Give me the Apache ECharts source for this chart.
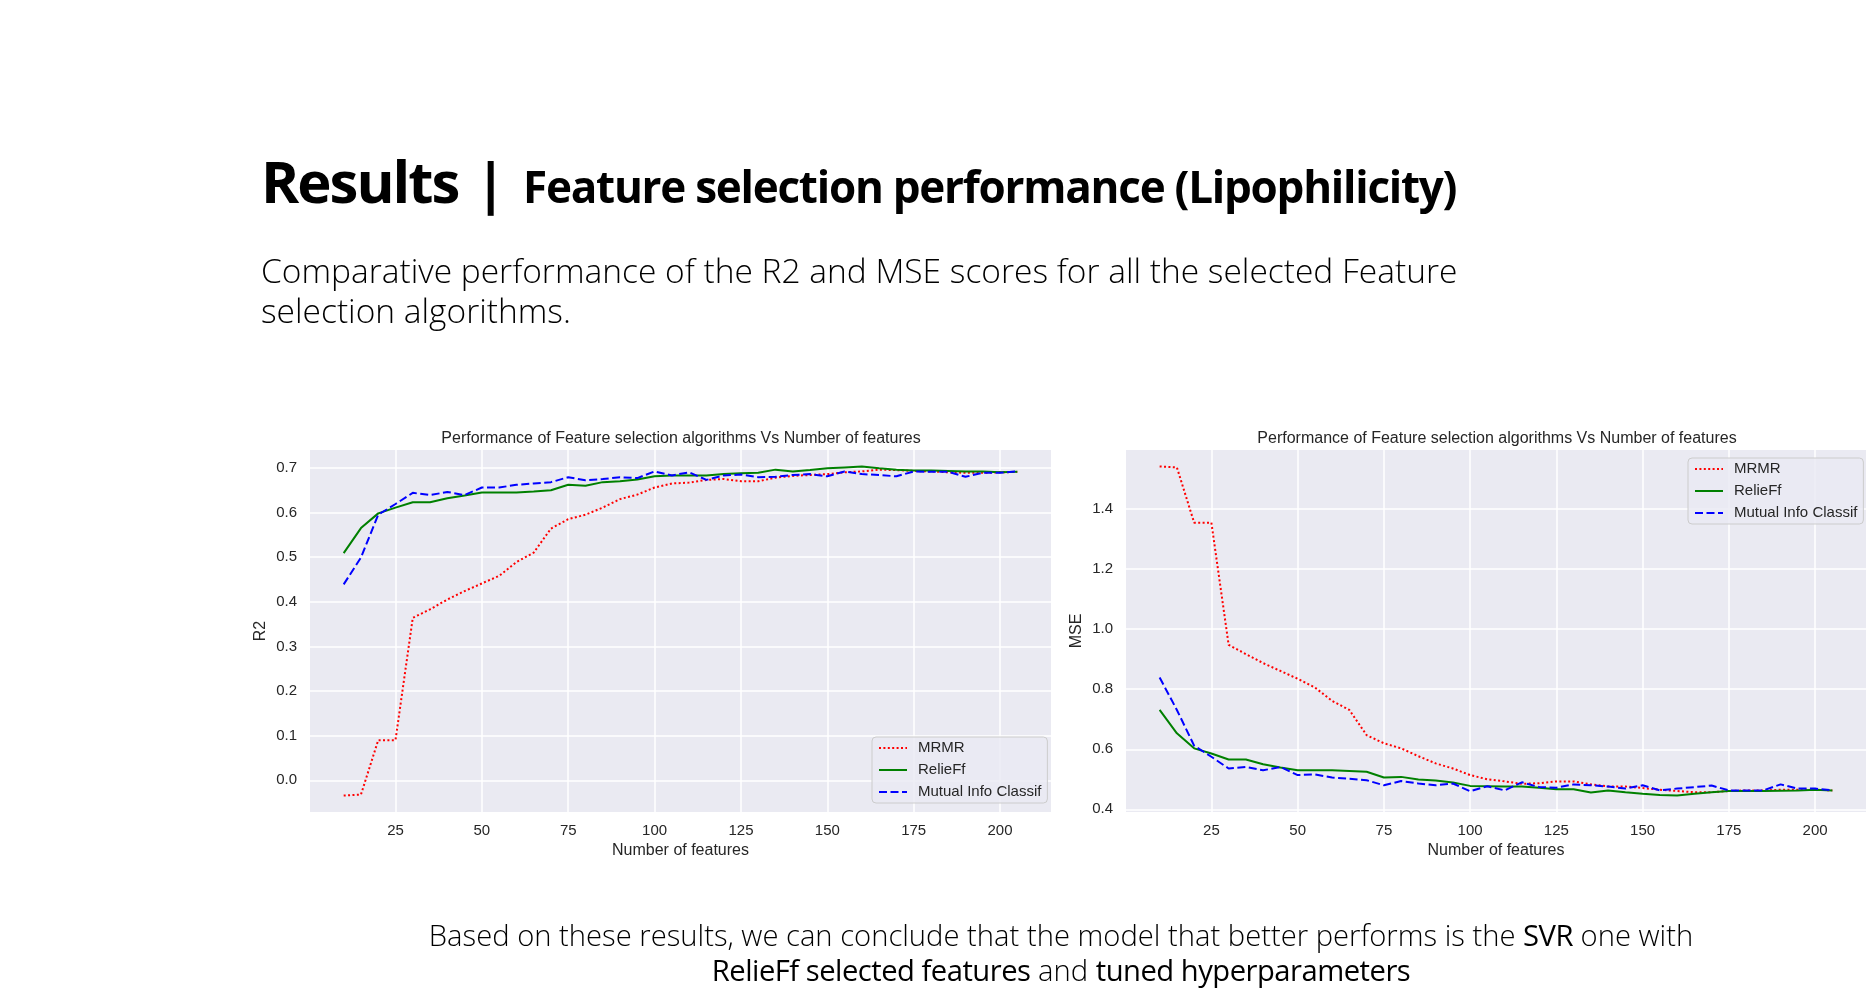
<!DOCTYPE html>
<html>
<head>
<meta charset="utf-8">
<script src="https://cdn.jsdelivr.net/npm/echarts@6/dist/echarts.min.js"></script>
<style>
  html, body { margin: 0; padding: 0; background: #fff; width: 1868px; height: 1004px; overflow: hidden; }
  #chart { position: absolute; left: 0; top: 0; width: 1868px; height: 1004px; }
  .txt { position: absolute; font-family: "Open Sans", sans-serif; color: #000; white-space: nowrap; }
  #heading { left: 261px; top: 141px; display: flex; align-items: baseline; }
  #heading .big { font-size: 58px; font-weight: 700; letter-spacing: -2px; }
  #heading .bar { font-size: 56px; font-weight: 700; margin: 0 17px 0 17px; }
  #heading .sub { font-size: 44px; font-weight: 700; letter-spacing: -1.25px; }
  #intro { left: 261px; top: 251px; font-size: 33.5px; font-weight: 300; line-height: 39.5px; }
  #conclusion { left: 0; width: 2122px; top: 918px; text-align: center; font-size: 29.2px; font-weight: 300; line-height: 35px; }
  #conclusion b { font-weight: 400; letter-spacing: -0.5px; }
</style>
</head>
<body>
<div id="chart"></div>
<div class="txt" id="heading"><span class="big">Results</span><span class="bar">|</span><span class="sub">Feature selection performance (Lipophilicity)</span></div>
<div class="txt" id="intro">Comparative performance of the R2 and MSE scores for all the selected Feature<br>selection algorithms.</div>
<div class="txt" id="conclusion">Based on these results, we can conclude that the model that better performs is the <b>SVR</b> one with<br><b>RelieFf selected features</b> and <b>tuned hyperparameters</b></div>
<script>
// number of selected features (x axis of both panels)
const features = [10, 15, 20, 25, 30, 35, 40, 45, 50, 55, 60, 65, 70, 75, 80, 85, 90, 95, 100, 105,
  110, 115, 120, 125, 130, 135, 140, 145, 150, 155, 160, 165, 170, 175, 180, 185, 190, 195, 200, 205];

// R2 scores
const r2Mrmr = [-0.034, -0.032, 0.090, 0.090, 0.364, 0.383, 0.405, 0.424, 0.441, 0.458, 0.489, 0.510, 0.564, 0.585, 0.595, 0.611, 0.630, 0.640, 0.656, 0.665,
  0.667, 0.673, 0.675, 0.670, 0.670, 0.678, 0.682, 0.684, 0.686, 0.690, 0.692, 0.696, 0.695, 0.693, 0.692, 0.690, 0.689, 0.689, 0.690, 0.691];
const r2Relief = [0.509, 0.565, 0.598, 0.611, 0.623, 0.623, 0.632, 0.638, 0.645, 0.645, 0.645, 0.647, 0.650, 0.662, 0.660, 0.668, 0.670, 0.674, 0.681, 0.683,
  0.683, 0.683, 0.686, 0.688, 0.689, 0.696, 0.692, 0.695, 0.699, 0.701, 0.703, 0.699, 0.696, 0.694, 0.694, 0.693, 0.692, 0.692, 0.690, 0.691];
const r2Mutual = [0.439, 0.499, 0.595, 0.619, 0.644, 0.639, 0.646, 0.639, 0.656, 0.656, 0.662, 0.665, 0.668, 0.679, 0.672, 0.675, 0.679, 0.677, 0.692, 0.683,
  0.690, 0.673, 0.683, 0.685, 0.679, 0.680, 0.684, 0.686, 0.681, 0.692, 0.686, 0.684, 0.681, 0.692, 0.691, 0.691, 0.680, 0.689, 0.689, 0.692];

// MSE scores
const mseMrmr = [1.542, 1.539, 1.355, 1.355, 0.948, 0.917, 0.887, 0.861, 0.835, 0.806, 0.761, 0.731, 0.647, 0.620, 0.603, 0.577, 0.553, 0.536, 0.514, 0.500,
  0.493, 0.485, 0.487, 0.493, 0.493, 0.483, 0.476, 0.476, 0.471, 0.465, 0.461, 0.457, 0.457, 0.461, 0.463, 0.463, 0.465, 0.465, 0.465, 0.463];
const mseRelief = [0.731, 0.653, 0.603, 0.586, 0.566, 0.566, 0.550, 0.539, 0.530, 0.530, 0.530, 0.528, 0.525, 0.506, 0.508, 0.499, 0.496, 0.489, 0.478, 0.477,
  0.476, 0.476, 0.472, 0.467, 0.467, 0.456, 0.463, 0.457, 0.452, 0.448, 0.446, 0.452, 0.457, 0.461, 0.461, 0.461, 0.462, 0.463, 0.465, 0.463];
const mseMutual = [0.839, 0.731, 0.612, 0.575, 0.536, 0.541, 0.530, 0.541, 0.514, 0.516, 0.506, 0.502, 0.497, 0.480, 0.494, 0.486, 0.480, 0.486, 0.460, 0.477,
  0.463, 0.490, 0.474, 0.472, 0.483, 0.480, 0.476, 0.469, 0.480, 0.463, 0.469, 0.474, 0.479, 0.463, 0.463, 0.463, 0.483, 0.469, 0.469, 0.463];

// tick labels
const xTicks = [25, 50, 75, 100, 125, 150, 175, 200];
const r2Ticks = [0.0, 0.1, 0.2, 0.3, 0.4, 0.5, 0.6, 0.7];
const mseTicks = [0.4, 0.6, 0.8, 1.0, 1.2, 1.4];

const seriesNames = ["MRMR", "RelieFf", "Mutual Info Classif"];
const chartTitle = "Performance of Feature selection algorithms Vs Number of features";

const textColor = "#262626";
const font = "Liberation Sans";
const pts = (arr) => features.map((f, i) => [f, arr[i]]);

const styles = [
  { color: "#ff0000", type: [2, 2.4], width: 2 },
  { color: "#008000", type: "solid", width: 2 },
  { color: "#0000ff", type: [8, 3.5], width: 2 },
];

function xAxis(gridIndex) {
  return {
    type: "value", gridIndex, min: 0.25, max: 214.75,
    name: "Number of features", nameLocation: "middle", nameGap: 31,
    nameTextStyle: { color: textColor, fontSize: 16, fontFamily: font },
    axisLine: { show: false },
    axisTick: { show: false, customValues: xTicks },
    axisLabel: { customValues: xTicks, color: textColor, fontSize: 15, margin: 11, fontFamily: font },
    splitLine: { show: true, lineStyle: { color: "#ffffff", width: 1.5 } },
  };
}

function yAxis(gridIndex, name, min, max, ticks) {
  return {
    type: "value", gridIndex, min, max,
    name, nameLocation: "middle", nameGap: 41,
    nameTextStyle: { color: textColor, fontSize: 16, fontFamily: font },
    axisLine: { show: false },
    axisTick: { show: false, customValues: ticks },
    axisLabel: { customValues: ticks, color: textColor, fontSize: 15, margin: 13, fontFamily: font,
      formatter: (v) => v.toFixed(1) },
    splitLine: { show: true, lineStyle: { color: "#ffffff", width: 1.5 } },
  };
}

function lines(idx, sets) {
  return sets.map((arr, k) => ({
    name: seriesNames[k], type: "line", xAxisIndex: idx, yAxisIndex: idx,
    data: pts(arr), symbol: "none", lineStyle: styles[k], itemStyle: { color: styles[k].color },
    z: 2 + k,
  }));
}

function legend(left, top) {
  return {
    data: seriesNames, orient: "vertical", left, top,
    itemWidth: 28, itemHeight: 12, itemGap: 7, padding: [3.5, 6, 3.5, 6],
    backgroundColor: "rgba(234,234,242,0.8)", borderColor: "#cccccc", borderWidth: 1, borderRadius: 4,
    itemStyle: { opacity: 0 },
    textStyle: { color: textColor, fontSize: 15, fontFamily: font, padding: [0, 0, 0, 6] },
    selectedMode: false,
  };
}

const myChart = echarts.init(document.getElementById("chart"));
myChart.setOption({
  animation: false,
  title: [
    { text: chartTitle, left: 676, top: 426, textAlign: "center",
      textStyle: { color: textColor, fontSize: 16, fontWeight: "normal", fontFamily: font } },
    { text: chartTitle, left: 1492, top: 426, textAlign: "center",
      textStyle: { color: textColor, fontSize: 16, fontWeight: "normal", fontFamily: font } },
  ],
  grid: [
    { left: 310, top: 450, width: 741, height: 362, show: true, backgroundColor: "#eaeaf2", borderWidth: 0 },
    { left: 1126, top: 450, width: 740, height: 362, show: true, backgroundColor: "#eaeaf2", borderWidth: 0 },
  ],
  legend: [legend(872, 737), legend(1688, 458)],
  xAxis: [xAxis(0), xAxis(1)],
  yAxis: [yAxis(0, "R2", -0.071, 0.740, r2Ticks), yAxis(1, "MSE", 0.391, 1.597, mseTicks)],
  series: [...lines(0, [r2Mrmr, r2Relief, r2Mutual]), ...lines(1, [mseMrmr, mseRelief, mseMutual])],
});
</script>
</body>
</html>
